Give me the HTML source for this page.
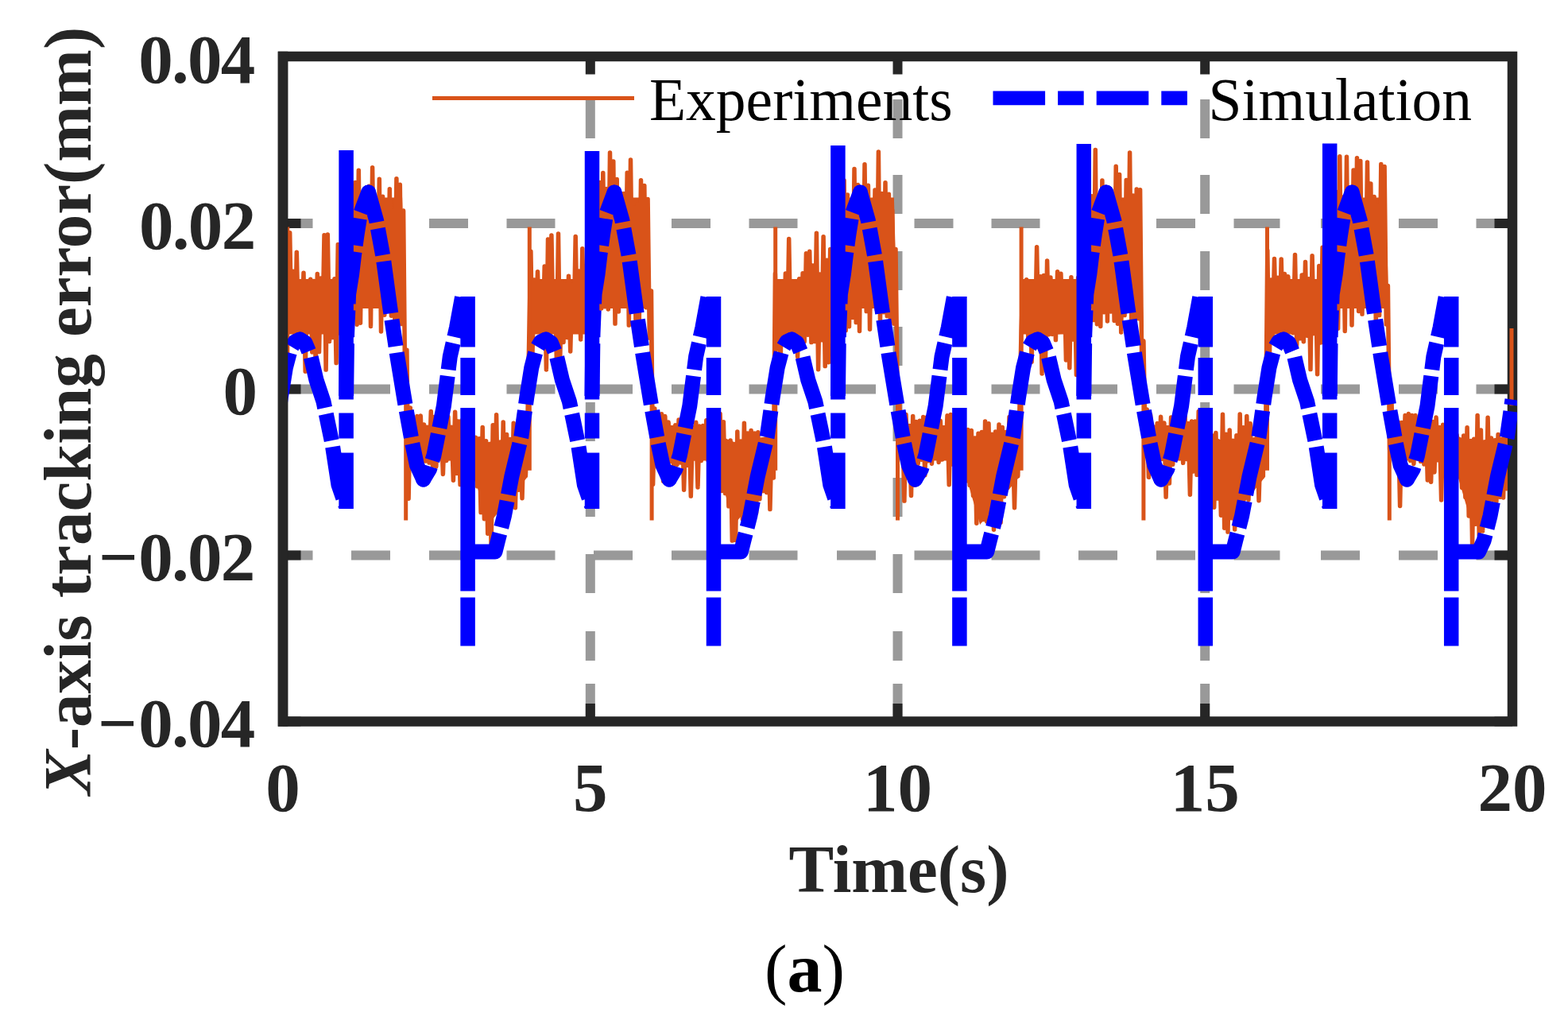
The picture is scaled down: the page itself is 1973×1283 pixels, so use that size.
<!DOCTYPE html><html><head><meta charset="utf-8"><style>html,body{margin:0;padding:0;background:#fff;overflow:hidden}svg{display:block}</style></head><body><svg width="1973" height="1283" viewBox="0 0 1973 1283"><defs><clipPath id="ax"><rect x="356.0" y="71.0" width="1547.0" height="836.5"/></clipPath><clipPath id="ax2"><rect x="356.0" y="71.0" width="1553.0" height="836.5"/></clipPath><clipPath id="ax3"><rect x="356.0" y="71.0" width="1541.0" height="836.5"/></clipPath></defs><rect width="100%" height="100%" fill="#fff"/><path d="M332.5 281.0H393.5M442.0 281.0H491.0M540.0 281.0H589.0M637.5 281.0H698.5M747.0 281.0H796.0M845.0 281.0H894.0M942.5 281.0H1003.5M1053.0 281.0H1102.0M1150.5 281.0H1199.5M1247.5 281.0H1308.5M1357.0 281.0H1406.0M1455.0 281.0H1504.0M1552.5 281.0H1610.5M1662.0 281.0H1711.0M1760.0 281.0H1809.0M1857.5 281.0H1907.5M332.5 489.5H393.5M442.0 489.5H491.0M540.0 489.5H589.0M637.5 489.5H698.5M747.0 489.5H796.0M845.0 489.5H894.0M942.5 489.5H1003.5M1053.0 489.5H1102.0M1150.5 489.5H1199.5M1247.5 489.5H1308.5M1357.0 489.5H1406.0M1455.0 489.5H1504.0M1552.5 489.5H1610.5M1662.0 489.5H1711.0M1760.0 489.5H1809.0M1857.5 489.5H1907.5M332.5 698.5H393.5M442.0 698.5H491.0M540.0 698.5H589.0M637.5 698.5H698.5M747.0 698.5H796.0M845.0 698.5H894.0M942.5 698.5H1003.5M1053.0 698.5H1102.0M1150.5 698.5H1199.5M1247.5 698.5H1308.5M1357.0 698.5H1406.0M1455.0 698.5H1504.0M1552.5 698.5H1610.5M1662.0 698.5H1711.0M1760.0 698.5H1809.0M1857.5 698.5H1907.5M742.8 125.0V174.0M742.8 220.0V269.0M742.8 316.0V365.0M742.8 411.0V460.0M742.8 506.0V555.0M742.8 601.0V650.0M742.8 697.0V746.0M742.8 794.0V831.0M742.8 860.0V907.0M1129.5 125.0V174.0M1129.5 220.0V269.0M1129.5 316.0V365.0M1129.5 411.0V460.0M1129.5 506.0V555.0M1129.5 601.0V650.0M1129.5 697.0V746.0M1129.5 794.0V831.0M1129.5 860.0V907.0M1516.2 125.0V174.0M1516.2 220.0V269.0M1516.2 316.0V365.0M1516.2 411.0V460.0M1516.2 506.0V555.0M1516.2 601.0V650.0M1516.2 697.0V746.0M1516.2 794.0V831.0M1516.2 860.0V907.0" stroke="#999999" stroke-width="12" fill="none" clip-path="url(#ax)"/><path d="M356.0 71.0H378.5M1903.0 71.0H1880.5M356.0 281.0H378.5M1903.0 281.0H1880.5M356.0 489.5H378.5M1903.0 489.5H1880.5M356.0 698.5H378.5M1903.0 698.5H1880.5M356.0 907.5H378.5M1903.0 907.5H1880.5M356.0 71.0V93.5M356.0 907.5V885.0M742.8 71.0V93.5M742.8 907.5V885.0M1129.5 71.0V93.5M1129.5 907.5V885.0M1516.2 71.0V93.5M1516.2 907.5V885.0M1903.0 71.0V93.5M1903.0 907.5V885.0" stroke="#262626" stroke-width="12" fill="none"/><rect x="356.0" y="71.0" width="1547.0" height="836.5" fill="none" stroke="#262626" stroke-width="12.5"/><g clip-path="url(#ax3)"><path d="M356.0 351.1 L357.5 351.1 L359.1 351.1 L360.6 351.1 L362.2 351.1 L363.7 351.1 L365.3 351.1 L366.8 351.1 L368.4 351.1 L369.9 351.1 L371.5 351.1 L373.0 351.1 L374.6 351.1 L376.1 351.1 L377.7 351.1 L379.2 351.1 L380.8 351.1 L382.3 351.1 L383.8 351.1 L385.4 351.1 L386.9 351.1 L388.5 351.1 L390.0 351.1 L391.6 351.1 L393.1 351.1 L394.7 351.1 L396.2 351.1 L397.8 351.1 L399.3 351.1 L400.9 351.1 L402.4 351.1 L404.0 351.1 L405.5 351.1 L407.1 351.1 L408.6 351.1 L410.1 351.1 L411.7 351.1 L413.2 351.1 L414.8 351.1 L416.3 351.1 L417.9 351.1 L419.4 351.1 L421.0 351.1 L422.5 351.1 L424.1 351.1 L425.6 351.1 L427.2 351.1 L428.7 351.1 L430.3 351.1 L431.8 351.1 L433.4 351.1 L434.9 330.6 L436.4 289.5 L438.0 248.5 L439.5 248.5 L441.1 248.5 L442.6 248.5 L444.2 248.5 L445.7 248.5 L447.3 248.5 L448.8 248.5 L450.4 248.5 L451.9 248.5 L453.5 248.5 L455.0 248.5 L456.6 248.5 L458.1 248.5 L459.6 248.5 L461.2 248.5 L462.7 248.5 L464.3 248.5 L465.8 248.5 L467.4 248.5 L468.9 248.5 L470.5 248.5 L472.0 248.5 L473.6 248.5 L475.1 248.5 L476.7 248.5 L478.2 248.5 L479.8 248.5 L481.3 248.5 L482.9 248.5 L484.4 248.5 L485.9 248.5 L487.5 248.5 L489.0 248.5 L490.6 248.5 L492.1 248.5 L493.7 248.5 L495.2 248.5 L496.8 248.5 L498.3 248.5 L499.9 248.5 L501.4 248.5 L503.0 248.5 L504.5 248.5 L506.1 248.5 L507.6 305.6 L509.2 362.6 L510.7 419.6 L512.2 476.7 L513.8 511.2 L515.3 523.1 L516.9 535.0 L518.4 535.0 L520.0 535.0 L521.5 535.0 L523.1 535.0 L524.6 535.0 L526.2 535.0 L527.7 535.0 L529.3 535.0 L530.8 535.0 L532.4 535.0 L533.9 535.0 L535.5 535.0 L537.0 535.0 L538.5 535.0 L540.1 535.0 L541.6 535.0 L543.2 535.0 L544.7 535.0 L546.3 535.0 L547.8 535.0 L549.4 535.0 L550.9 535.0 L552.5 535.0 L554.0 535.0 L555.6 535.0 L557.1 535.0 L558.7 535.0 L560.2 535.0 L561.8 535.0 L563.3 535.0 L564.8 535.0 L566.4 535.0 L567.9 535.0 L569.5 535.0 L571.0 535.0 L572.6 535.0 L574.1 535.0 L575.7 535.0 L577.2 535.0 L578.8 535.0 L580.3 535.0 L581.9 535.0 L583.4 535.0 L585.0 535.0 L586.5 535.0 L588.0 535.0 L589.6 537.4 L591.1 542.2 L592.7 547.0 L594.2 547.6 L595.8 548.3 L597.3 548.9 L598.9 549.5 L600.4 550.2 L602.0 550.8 L603.5 551.5 L605.1 552.1 L606.6 552.7 L608.2 553.4 L609.7 554.0 L611.3 554.7 L612.8 555.3 L614.3 555.9 L615.9 555.7 L617.4 555.4 L619.0 555.2 L620.5 554.9 L622.1 554.6 L623.6 554.4 L625.2 554.1 L626.7 553.9 L628.3 553.6 L629.8 553.3 L631.4 553.1 L632.9 552.8 L634.5 552.6 L636.0 552.3 L637.6 552.1 L639.1 551.8 L640.6 551.5 L642.2 551.3 L643.7 551.0 L645.3 550.8 L646.8 550.5 L648.4 550.2 L649.9 550.0 L651.5 549.7 L653.0 549.5 L654.6 549.2 L656.1 549.0 L657.7 548.8 L659.2 548.6 L660.8 548.5 L662.3 548.3 L663.9 548.2 L665.4 351.1 L666.9 351.1 L668.5 351.1 L670.0 351.1 L671.6 351.1 L673.1 351.1 L674.7 351.1 L676.2 351.1 L677.8 351.1 L679.3 351.1 L680.9 351.1 L682.4 351.1 L684.0 351.1 L685.5 351.1 L687.1 351.1 L688.6 351.1 L690.2 351.1 L691.7 351.1 L693.2 351.1 L694.8 351.1 L696.3 351.1 L697.9 351.1 L699.4 351.1 L701.0 351.1 L702.5 351.1 L704.1 351.1 L705.6 351.1 L707.2 351.1 L708.7 351.1 L710.3 351.1 L711.8 351.1 L713.4 351.1 L714.9 351.1 L716.5 351.1 L718.0 351.1 L719.5 351.1 L721.1 351.1 L722.6 351.1 L724.2 351.1 L725.7 351.1 L727.3 351.1 L728.8 351.1 L730.4 351.1 L731.9 351.1 L733.5 351.1 L735.0 351.1 L736.6 351.1 L738.1 351.1 L739.7 351.1 L741.2 351.1 L742.8 351.1 L744.3 330.6 L745.8 289.5 L747.4 248.5 L748.9 248.5 L750.5 248.5 L752.0 248.5 L753.6 248.5 L755.1 248.5 L756.7 248.5 L758.2 248.5 L759.8 248.5 L761.3 248.5 L762.9 248.5 L764.4 248.5 L766.0 248.5 L767.5 248.5 L769.0 248.5 L770.6 248.5 L772.1 248.5 L773.7 248.5 L775.2 248.5 L776.8 248.5 L778.3 248.5 L779.9 248.5 L781.4 248.5 L783.0 248.5 L784.5 248.5 L786.1 248.5 L787.6 248.5 L789.2 248.5 L790.7 248.5 L792.3 248.5 L793.8 248.5 L795.3 248.5 L796.9 248.5 L798.4 248.5 L800.0 248.5 L801.5 248.5 L803.1 248.5 L804.6 248.5 L806.2 248.5 L807.7 248.5 L809.3 248.5 L810.8 248.5 L812.4 248.5 L813.9 248.5 L815.5 248.5 L817.0 305.6 L818.6 362.6 L820.1 419.6 L821.6 476.7 L823.2 511.2 L824.7 523.1 L826.3 535.0 L827.8 535.0 L829.4 535.0 L830.9 535.0 L832.5 535.0 L834.0 535.0 L835.6 535.0 L837.1 535.0 L838.7 535.0 L840.2 535.0 L841.8 535.0 L843.3 535.0 L844.9 535.0 L846.4 535.0 L847.9 535.0 L849.5 535.0 L851.0 535.0 L852.6 535.0 L854.1 535.0 L855.7 535.0 L857.2 535.0 L858.8 535.0 L860.3 535.0 L861.9 535.0 L863.4 535.0 L865.0 535.0 L866.5 535.0 L868.1 535.0 L869.6 535.0 L871.2 535.0 L872.7 535.0 L874.2 535.0 L875.8 535.0 L877.3 535.0 L878.9 535.0 L880.4 535.0 L882.0 535.0 L883.5 535.0 L885.1 535.0 L886.6 535.0 L888.2 535.0 L889.7 535.0 L891.3 535.0 L892.8 535.0 L894.4 535.0 L895.9 535.0 L897.5 535.0 L899.0 537.4 L900.5 542.2 L902.1 547.0 L903.6 547.6 L905.2 548.3 L906.7 548.9 L908.3 549.5 L909.8 550.2 L911.4 550.8 L912.9 551.5 L914.5 552.1 L916.0 552.7 L917.6 553.4 L919.1 554.0 L920.7 554.7 L922.2 555.3 L923.7 555.9 L925.3 555.7 L926.8 555.4 L928.4 555.2 L929.9 554.9 L931.5 554.6 L933.0 554.4 L934.6 554.1 L936.1 553.9 L937.7 553.6 L939.2 553.3 L940.8 553.1 L942.3 552.8 L943.9 552.6 L945.4 552.3 L947.0 552.1 L948.5 551.8 L950.0 551.5 L951.6 551.3 L953.1 551.0 L954.7 550.8 L956.2 550.5 L957.8 550.2 L959.3 550.0 L960.9 549.7 L962.4 549.5 L964.0 549.2 L965.5 549.0 L967.1 548.8 L968.6 548.6 L970.2 548.5 L971.7 548.3 L973.3 548.2 L974.8 351.1 L976.3 351.1 L977.9 351.1 L979.4 351.1 L981.0 351.1 L982.5 351.1 L984.1 351.1 L985.6 351.1 L987.2 351.1 L988.7 351.1 L990.3 351.1 L991.8 351.1 L993.4 351.1 L994.9 351.1 L996.5 351.1 L998.0 351.1 L999.6 351.1 L1001.1 351.1 L1002.6 351.1 L1004.2 351.1 L1005.7 351.1 L1007.3 351.1 L1008.8 351.1 L1010.4 351.1 L1011.9 351.1 L1013.5 351.1 L1015.0 351.1 L1016.6 351.1 L1018.1 351.1 L1019.7 351.1 L1021.2 351.1 L1022.8 351.1 L1024.3 351.1 L1025.9 351.1 L1027.4 351.1 L1028.9 351.1 L1030.5 351.1 L1032.0 351.1 L1033.6 351.1 L1035.1 351.1 L1036.7 351.1 L1038.2 351.1 L1039.8 351.1 L1041.3 351.1 L1042.9 351.1 L1044.4 351.1 L1046.0 351.1 L1047.5 351.1 L1049.1 351.1 L1050.6 351.1 L1052.2 351.1 L1053.7 330.6 L1055.2 289.5 L1056.8 248.5 L1058.3 248.5 L1059.9 248.5 L1061.4 248.5 L1063.0 248.5 L1064.5 248.5 L1066.1 248.5 L1067.6 248.5 L1069.2 248.5 L1070.7 248.5 L1072.3 248.5 L1073.8 248.5 L1075.4 248.5 L1076.9 248.5 L1078.4 248.5 L1080.0 248.5 L1081.5 248.5 L1083.1 248.5 L1084.6 248.5 L1086.2 248.5 L1087.7 248.5 L1089.3 248.5 L1090.8 248.5 L1092.4 248.5 L1093.9 248.5 L1095.5 248.5 L1097.0 248.5 L1098.6 248.5 L1100.1 248.5 L1101.7 248.5 L1103.2 248.5 L1104.7 248.5 L1106.3 248.5 L1107.8 248.5 L1109.4 248.5 L1110.9 248.5 L1112.5 248.5 L1114.0 248.5 L1115.6 248.5 L1117.1 248.5 L1118.7 248.5 L1120.2 248.5 L1121.8 248.5 L1123.3 248.5 L1124.9 248.5 L1126.4 305.6 L1128.0 362.6 L1129.5 419.6 L1131.0 476.7 L1132.6 511.2 L1134.1 523.1 L1135.7 535.0 L1137.2 535.0 L1138.8 535.0 L1140.3 535.0 L1141.9 535.0 L1143.4 535.0 L1145.0 535.0 L1146.5 535.0 L1148.1 535.0 L1149.6 535.0 L1151.2 535.0 L1152.7 535.0 L1154.3 535.0 L1155.8 535.0 L1157.3 535.0 L1158.9 535.0 L1160.4 535.0 L1162.0 535.0 L1163.5 535.0 L1165.1 535.0 L1166.6 535.0 L1168.2 535.0 L1169.7 535.0 L1171.3 535.0 L1172.8 535.0 L1174.4 535.0 L1175.9 535.0 L1177.5 535.0 L1179.0 535.0 L1180.6 535.0 L1182.1 535.0 L1183.6 535.0 L1185.2 535.0 L1186.7 535.0 L1188.3 535.0 L1189.8 535.0 L1191.4 535.0 L1192.9 535.0 L1194.5 535.0 L1196.0 535.0 L1197.6 535.0 L1199.1 535.0 L1200.7 535.0 L1202.2 535.0 L1203.8 535.0 L1205.3 535.0 L1206.8 535.0 L1208.4 537.4 L1209.9 542.2 L1211.5 547.0 L1213.0 547.6 L1214.6 548.3 L1216.1 548.9 L1217.7 549.5 L1219.2 550.2 L1220.8 550.8 L1222.3 551.5 L1223.9 552.1 L1225.4 552.7 L1227.0 553.4 L1228.5 554.0 L1230.1 554.7 L1231.6 555.3 L1233.1 555.9 L1234.7 555.7 L1236.2 555.4 L1237.8 555.2 L1239.3 554.9 L1240.9 554.6 L1242.4 554.4 L1244.0 554.1 L1245.5 553.9 L1247.1 553.6 L1248.6 553.3 L1250.2 553.1 L1251.7 552.8 L1253.3 552.6 L1254.8 552.3 L1256.4 552.1 L1257.9 551.8 L1259.4 551.5 L1261.0 551.3 L1262.5 551.0 L1264.1 550.8 L1265.6 550.5 L1267.2 550.2 L1268.7 550.0 L1270.3 549.7 L1271.8 549.5 L1273.4 549.2 L1274.9 549.0 L1276.5 548.8 L1278.0 548.6 L1279.6 548.5 L1281.1 548.3 L1282.7 548.2 L1284.2 351.1 L1285.7 351.1 L1287.3 351.1 L1288.8 351.1 L1290.4 351.1 L1291.9 351.1 L1293.5 351.1 L1295.0 351.1 L1296.6 351.1 L1298.1 351.1 L1299.7 351.1 L1301.2 351.1 L1302.8 351.1 L1304.3 351.1 L1305.9 351.1 L1307.4 351.1 L1309.0 351.1 L1310.5 351.1 L1312.0 351.1 L1313.6 351.1 L1315.1 351.1 L1316.7 351.1 L1318.2 351.1 L1319.8 351.1 L1321.3 351.1 L1322.9 351.1 L1324.4 351.1 L1326.0 351.1 L1327.5 351.1 L1329.1 351.1 L1330.6 351.1 L1332.2 351.1 L1333.7 351.1 L1335.3 351.1 L1336.8 351.1 L1338.3 351.1 L1339.9 351.1 L1341.4 351.1 L1343.0 351.1 L1344.5 351.1 L1346.1 351.1 L1347.6 351.1 L1349.2 351.1 L1350.7 351.1 L1352.3 351.1 L1353.8 351.1 L1355.4 351.1 L1356.9 351.1 L1358.5 351.1 L1360.0 351.1 L1361.5 351.1 L1363.1 330.6 L1364.6 289.5 L1366.2 248.5 L1367.7 248.5 L1369.3 248.5 L1370.8 248.5 L1372.4 248.5 L1373.9 248.5 L1375.5 248.5 L1377.0 248.5 L1378.6 248.5 L1380.1 248.5 L1381.7 248.5 L1383.2 248.5 L1384.8 248.5 L1386.3 248.5 L1387.8 248.5 L1389.4 248.5 L1390.9 248.5 L1392.5 248.5 L1394.0 248.5 L1395.6 248.5 L1397.1 248.5 L1398.7 248.5 L1400.2 248.5 L1401.8 248.5 L1403.3 248.5 L1404.9 248.5 L1406.4 248.5 L1408.0 248.5 L1409.5 248.5 L1411.1 248.5 L1412.6 248.5 L1414.1 248.5 L1415.7 248.5 L1417.2 248.5 L1418.8 248.5 L1420.3 248.5 L1421.9 248.5 L1423.4 248.5 L1425.0 248.5 L1426.5 248.5 L1428.1 248.5 L1429.6 248.5 L1431.2 248.5 L1432.7 248.5 L1434.3 248.5 L1435.8 305.6 L1437.4 362.6 L1438.9 419.6 L1440.4 476.7 L1442.0 511.2 L1443.5 523.1 L1445.1 535.0 L1446.6 535.0 L1448.2 535.0 L1449.7 535.0 L1451.3 535.0 L1452.8 535.0 L1454.4 535.0 L1455.9 535.0 L1457.5 535.0 L1459.0 535.0 L1460.6 535.0 L1462.1 535.0 L1463.7 535.0 L1465.2 535.0 L1466.7 535.0 L1468.3 535.0 L1469.8 535.0 L1471.4 535.0 L1472.9 535.0 L1474.5 535.0 L1476.0 535.0 L1477.6 535.0 L1479.1 535.0 L1480.7 535.0 L1482.2 535.0 L1483.8 535.0 L1485.3 535.0 L1486.9 535.0 L1488.4 535.0 L1490.0 535.0 L1491.5 535.0 L1493.0 535.0 L1494.6 535.0 L1496.1 535.0 L1497.7 535.0 L1499.2 535.0 L1500.8 535.0 L1502.3 535.0 L1503.9 535.0 L1505.4 535.0 L1507.0 535.0 L1508.5 535.0 L1510.1 535.0 L1511.6 535.0 L1513.2 535.0 L1514.7 535.0 L1516.2 535.0 L1517.8 537.4 L1519.3 542.2 L1520.9 547.0 L1522.4 547.6 L1524.0 548.3 L1525.5 548.9 L1527.1 549.5 L1528.6 550.2 L1530.2 550.8 L1531.7 551.5 L1533.3 552.1 L1534.8 552.7 L1536.4 553.4 L1537.9 554.0 L1539.5 554.7 L1541.0 555.3 L1542.5 555.9 L1544.1 555.7 L1545.6 555.4 L1547.2 555.2 L1548.7 554.9 L1550.3 554.6 L1551.8 554.4 L1553.4 554.1 L1554.9 553.9 L1556.5 553.6 L1558.0 553.3 L1559.6 553.1 L1561.1 552.8 L1562.7 552.6 L1564.2 552.3 L1565.8 552.1 L1567.3 551.8 L1568.8 551.5 L1570.4 551.3 L1571.9 551.0 L1573.5 550.8 L1575.0 550.5 L1576.6 550.2 L1578.1 550.0 L1579.7 549.7 L1581.2 549.5 L1582.8 549.2 L1584.3 549.0 L1585.9 548.8 L1587.4 548.6 L1589.0 548.5 L1590.5 548.3 L1592.1 548.2 L1593.6 351.1 L1595.1 351.1 L1596.7 351.1 L1598.2 351.1 L1599.8 351.1 L1601.3 351.1 L1602.9 351.1 L1604.4 351.1 L1606.0 351.1 L1607.5 351.1 L1609.1 351.1 L1610.6 351.1 L1612.2 351.1 L1613.7 351.1 L1615.3 351.1 L1616.8 351.1 L1618.4 351.1 L1619.9 351.1 L1621.4 351.1 L1623.0 351.1 L1624.5 351.1 L1626.1 351.1 L1627.6 351.1 L1629.2 351.1 L1630.7 351.1 L1632.3 351.1 L1633.8 351.1 L1635.4 351.1 L1636.9 351.1 L1638.5 351.1 L1640.0 351.1 L1641.6 351.1 L1643.1 351.1 L1644.7 351.1 L1646.2 351.1 L1647.7 351.1 L1649.3 351.1 L1650.8 351.1 L1652.4 351.1 L1653.9 351.1 L1655.5 351.1 L1657.0 351.1 L1658.6 351.1 L1660.1 351.1 L1661.7 351.1 L1663.2 351.1 L1664.8 351.1 L1666.3 351.1 L1667.9 351.1 L1669.4 351.1 L1671.0 351.1 L1672.5 330.6 L1674.0 289.5 L1675.6 248.5 L1677.1 248.5 L1678.7 248.5 L1680.2 248.5 L1681.8 248.5 L1683.3 248.5 L1684.9 248.5 L1686.4 248.5 L1688.0 248.5 L1689.5 248.5 L1691.1 248.5 L1692.6 248.5 L1694.2 248.5 L1695.7 248.5 L1697.2 248.5 L1698.8 248.5 L1700.3 248.5 L1701.9 248.5 L1703.4 248.5 L1705.0 248.5 L1706.5 248.5 L1708.1 248.5 L1709.6 248.5 L1711.2 248.5 L1712.7 248.5 L1714.3 248.5 L1715.8 248.5 L1717.4 248.5 L1718.9 248.5 L1720.5 248.5 L1722.0 248.5 L1723.5 248.5 L1725.1 248.5 L1726.6 248.5 L1728.2 248.5 L1729.7 248.5 L1731.3 248.5 L1732.8 248.5 L1734.4 248.5 L1735.9 248.5 L1737.5 248.5 L1739.0 248.5 L1740.6 248.5 L1742.1 248.5 L1743.7 248.5 L1745.2 305.6 L1746.8 362.6 L1748.3 419.6 L1749.8 476.7 L1751.4 511.2 L1752.9 523.1 L1754.5 535.0 L1756.0 535.0 L1757.6 535.0 L1759.1 535.0 L1760.7 535.0 L1762.2 535.0 L1763.8 535.0 L1765.3 535.0 L1766.9 535.0 L1768.4 535.0 L1770.0 535.0 L1771.5 535.0 L1773.1 535.0 L1774.6 535.0 L1776.1 535.0 L1777.7 535.0 L1779.2 535.0 L1780.8 535.0 L1782.3 535.0 L1783.9 535.0 L1785.4 535.0 L1787.0 535.0 L1788.5 535.0 L1790.1 535.0 L1791.6 535.0 L1793.2 535.0 L1794.7 535.0 L1796.3 535.0 L1797.8 535.0 L1799.4 535.0 L1800.9 535.0 L1802.4 535.0 L1804.0 535.0 L1805.5 535.0 L1807.1 535.0 L1808.6 535.0 L1810.2 535.0 L1811.7 535.0 L1813.3 535.0 L1814.8 535.0 L1816.4 535.0 L1817.9 535.0 L1819.5 535.0 L1821.0 535.0 L1822.6 535.0 L1824.1 535.0 L1825.7 535.0 L1827.2 537.4 L1828.7 542.2 L1830.3 547.0 L1831.8 547.6 L1833.4 548.3 L1834.9 548.9 L1836.5 549.5 L1838.0 550.2 L1839.6 550.8 L1841.1 551.5 L1842.7 552.1 L1844.2 552.7 L1845.8 553.4 L1847.3 554.0 L1848.9 554.7 L1850.4 555.3 L1851.9 555.9 L1853.5 555.7 L1855.0 555.4 L1856.6 555.2 L1858.1 554.9 L1859.7 554.6 L1861.2 554.4 L1862.8 554.1 L1864.3 553.9 L1865.9 553.6 L1867.4 553.3 L1869.0 553.1 L1870.5 552.8 L1872.1 552.6 L1873.6 552.3 L1875.2 552.1 L1876.7 551.8 L1878.2 551.5 L1879.8 551.3 L1881.3 551.0 L1882.9 550.8 L1884.4 550.5 L1886.0 550.2 L1887.5 550.0 L1889.1 549.7 L1890.6 549.5 L1892.2 549.2 L1893.7 549.0 L1895.3 548.8 L1896.8 548.6 L1898.4 548.5 L1899.9 548.3 L1901.5 548.2 L1903.0 351.1 L1903.0 420.4 L1901.5 599.7 L1899.9 601.7 L1898.4 603.6 L1896.8 605.5 L1895.3 607.5 L1893.7 609.4 L1892.2 611.3 L1890.6 613.1 L1889.1 615.0 L1887.5 616.9 L1886.0 618.7 L1884.4 620.6 L1882.9 622.5 L1881.3 624.4 L1879.8 626.2 L1878.2 628.1 L1876.7 630.0 L1875.2 631.9 L1873.6 633.7 L1872.1 635.6 L1870.5 637.5 L1869.0 639.3 L1867.4 641.2 L1865.9 643.1 L1864.3 645.0 L1862.8 646.8 L1861.2 648.7 L1859.7 650.6 L1858.1 652.4 L1856.6 654.3 L1855.0 656.2 L1853.5 658.1 L1851.9 659.9 L1850.4 654.6 L1848.9 649.2 L1847.3 643.9 L1845.8 638.6 L1844.2 633.2 L1842.7 627.9 L1841.1 622.6 L1839.6 617.2 L1838.0 611.9 L1836.5 606.6 L1834.9 601.2 L1833.4 595.9 L1831.8 590.5 L1830.3 585.2 L1828.7 582.9 L1827.2 580.6 L1825.7 579.4 L1824.1 579.4 L1822.6 579.4 L1821.0 579.4 L1819.5 579.4 L1817.9 579.4 L1816.4 579.4 L1814.8 579.4 L1813.3 579.4 L1811.7 579.4 L1810.2 579.4 L1808.6 579.4 L1807.1 579.4 L1805.5 579.4 L1804.0 579.4 L1802.4 579.4 L1800.9 579.4 L1799.4 579.4 L1797.8 579.4 L1796.3 579.4 L1794.7 579.4 L1793.2 579.4 L1791.6 579.4 L1790.1 579.4 L1788.5 579.4 L1787.0 579.4 L1785.4 579.4 L1783.9 579.4 L1782.3 579.4 L1780.8 579.4 L1779.2 579.4 L1777.7 579.4 L1776.1 579.4 L1774.6 579.4 L1773.1 579.4 L1771.5 579.4 L1770.0 579.4 L1768.4 579.4 L1766.9 579.4 L1765.3 579.4 L1763.8 579.4 L1762.2 579.4 L1760.7 579.4 L1759.1 579.4 L1757.6 579.4 L1756.0 579.4 L1754.5 579.4 L1752.9 574.6 L1751.4 569.8 L1749.8 547.5 L1748.3 507.6 L1746.8 467.8 L1745.2 427.9 L1743.7 388.1 L1742.1 388.1 L1740.6 388.1 L1739.0 388.1 L1737.5 388.1 L1735.9 388.1 L1734.4 388.1 L1732.8 388.1 L1731.3 388.1 L1729.7 388.1 L1728.2 388.1 L1726.6 388.1 L1725.1 388.1 L1723.5 388.1 L1722.0 388.1 L1720.5 388.1 L1718.9 388.1 L1717.4 388.1 L1715.8 388.1 L1714.3 388.1 L1712.7 388.1 L1711.2 388.1 L1709.6 388.1 L1708.1 388.1 L1706.5 388.1 L1705.0 388.1 L1703.4 388.1 L1701.9 388.1 L1700.3 388.1 L1698.8 388.1 L1697.2 388.1 L1695.7 388.1 L1694.2 388.1 L1692.6 388.1 L1691.1 388.1 L1689.5 388.1 L1688.0 388.1 L1686.4 388.1 L1684.9 388.1 L1683.3 388.1 L1681.8 388.1 L1680.2 388.1 L1678.7 388.1 L1677.1 388.1 L1675.6 388.1 L1674.0 401.0 L1672.5 413.9 L1671.0 420.4 L1669.4 420.4 L1667.9 420.4 L1666.3 420.4 L1664.8 420.4 L1663.2 420.4 L1661.7 420.4 L1660.1 420.4 L1658.6 420.4 L1657.0 420.4 L1655.5 420.4 L1653.9 420.4 L1652.4 420.4 L1650.8 420.4 L1649.3 420.4 L1647.7 420.4 L1646.2 420.4 L1644.7 420.4 L1643.1 420.4 L1641.6 420.4 L1640.0 420.4 L1638.5 420.4 L1636.9 420.4 L1635.4 420.4 L1633.8 420.4 L1632.3 420.4 L1630.7 420.4 L1629.2 420.4 L1627.6 420.4 L1626.1 420.4 L1624.5 420.4 L1623.0 420.4 L1621.4 420.4 L1619.9 420.4 L1618.4 420.4 L1616.8 420.4 L1615.3 420.4 L1613.7 420.4 L1612.2 420.4 L1610.6 420.4 L1609.1 420.4 L1607.5 420.4 L1606.0 420.4 L1604.4 420.4 L1602.9 420.4 L1601.3 420.4 L1599.8 420.4 L1598.2 420.4 L1596.7 420.4 L1595.1 420.4 L1593.6 420.4 L1592.1 599.7 L1590.5 601.7 L1589.0 603.6 L1587.4 605.5 L1585.9 607.5 L1584.3 609.4 L1582.8 611.3 L1581.2 613.1 L1579.7 615.0 L1578.1 616.9 L1576.6 618.7 L1575.0 620.6 L1573.5 622.5 L1571.9 624.4 L1570.4 626.2 L1568.8 628.1 L1567.3 630.0 L1565.8 631.9 L1564.2 633.7 L1562.7 635.6 L1561.1 637.5 L1559.6 639.3 L1558.0 641.2 L1556.5 643.1 L1554.9 645.0 L1553.4 646.8 L1551.8 648.7 L1550.3 650.6 L1548.7 652.4 L1547.2 654.3 L1545.6 656.2 L1544.1 658.1 L1542.5 659.9 L1541.0 654.6 L1539.5 649.2 L1537.9 643.9 L1536.4 638.6 L1534.8 633.2 L1533.3 627.9 L1531.7 622.6 L1530.2 617.2 L1528.6 611.9 L1527.1 606.6 L1525.5 601.2 L1524.0 595.9 L1522.4 590.5 L1520.9 585.2 L1519.3 582.9 L1517.8 580.6 L1516.2 579.4 L1514.7 579.4 L1513.2 579.4 L1511.6 579.4 L1510.1 579.4 L1508.5 579.4 L1507.0 579.4 L1505.4 579.4 L1503.9 579.4 L1502.3 579.4 L1500.8 579.4 L1499.2 579.4 L1497.7 579.4 L1496.1 579.4 L1494.6 579.4 L1493.0 579.4 L1491.5 579.4 L1490.0 579.4 L1488.4 579.4 L1486.9 579.4 L1485.3 579.4 L1483.8 579.4 L1482.2 579.4 L1480.7 579.4 L1479.1 579.4 L1477.6 579.4 L1476.0 579.4 L1474.5 579.4 L1472.9 579.4 L1471.4 579.4 L1469.8 579.4 L1468.3 579.4 L1466.7 579.4 L1465.2 579.4 L1463.7 579.4 L1462.1 579.4 L1460.6 579.4 L1459.0 579.4 L1457.5 579.4 L1455.9 579.4 L1454.4 579.4 L1452.8 579.4 L1451.3 579.4 L1449.7 579.4 L1448.2 579.4 L1446.6 579.4 L1445.1 579.4 L1443.5 574.6 L1442.0 569.8 L1440.4 547.5 L1438.9 507.6 L1437.4 467.8 L1435.8 427.9 L1434.3 388.1 L1432.7 388.1 L1431.2 388.1 L1429.6 388.1 L1428.1 388.1 L1426.5 388.1 L1425.0 388.1 L1423.4 388.1 L1421.9 388.1 L1420.3 388.1 L1418.8 388.1 L1417.2 388.1 L1415.7 388.1 L1414.1 388.1 L1412.6 388.1 L1411.1 388.1 L1409.5 388.1 L1408.0 388.1 L1406.4 388.1 L1404.9 388.1 L1403.3 388.1 L1401.8 388.1 L1400.2 388.1 L1398.7 388.1 L1397.1 388.1 L1395.6 388.1 L1394.0 388.1 L1392.5 388.1 L1390.9 388.1 L1389.4 388.1 L1387.8 388.1 L1386.3 388.1 L1384.8 388.1 L1383.2 388.1 L1381.7 388.1 L1380.1 388.1 L1378.6 388.1 L1377.0 388.1 L1375.5 388.1 L1373.9 388.1 L1372.4 388.1 L1370.8 388.1 L1369.3 388.1 L1367.7 388.1 L1366.2 388.1 L1364.6 401.0 L1363.1 413.9 L1361.5 420.4 L1360.0 420.4 L1358.5 420.4 L1356.9 420.4 L1355.4 420.4 L1353.8 420.4 L1352.3 420.4 L1350.7 420.4 L1349.2 420.4 L1347.6 420.4 L1346.1 420.4 L1344.5 420.4 L1343.0 420.4 L1341.4 420.4 L1339.9 420.4 L1338.3 420.4 L1336.8 420.4 L1335.3 420.4 L1333.7 420.4 L1332.2 420.4 L1330.6 420.4 L1329.1 420.4 L1327.5 420.4 L1326.0 420.4 L1324.4 420.4 L1322.9 420.4 L1321.3 420.4 L1319.8 420.4 L1318.2 420.4 L1316.7 420.4 L1315.1 420.4 L1313.6 420.4 L1312.0 420.4 L1310.5 420.4 L1309.0 420.4 L1307.4 420.4 L1305.9 420.4 L1304.3 420.4 L1302.8 420.4 L1301.2 420.4 L1299.7 420.4 L1298.1 420.4 L1296.6 420.4 L1295.0 420.4 L1293.5 420.4 L1291.9 420.4 L1290.4 420.4 L1288.8 420.4 L1287.3 420.4 L1285.7 420.4 L1284.2 420.4 L1282.7 599.7 L1281.1 601.7 L1279.6 603.6 L1278.0 605.5 L1276.5 607.5 L1274.9 609.4 L1273.4 611.3 L1271.8 613.1 L1270.3 615.0 L1268.7 616.9 L1267.2 618.7 L1265.6 620.6 L1264.1 622.5 L1262.5 624.4 L1261.0 626.2 L1259.4 628.1 L1257.9 630.0 L1256.4 631.9 L1254.8 633.7 L1253.3 635.6 L1251.7 637.5 L1250.2 639.3 L1248.6 641.2 L1247.1 643.1 L1245.5 645.0 L1244.0 646.8 L1242.4 648.7 L1240.9 650.6 L1239.3 652.4 L1237.8 654.3 L1236.2 656.2 L1234.7 658.1 L1233.1 659.9 L1231.6 654.6 L1230.1 649.2 L1228.5 643.9 L1227.0 638.6 L1225.4 633.2 L1223.9 627.9 L1222.3 622.6 L1220.8 617.2 L1219.2 611.9 L1217.7 606.6 L1216.1 601.2 L1214.6 595.9 L1213.0 590.5 L1211.5 585.2 L1209.9 582.9 L1208.4 580.6 L1206.8 579.4 L1205.3 579.4 L1203.8 579.4 L1202.2 579.4 L1200.7 579.4 L1199.1 579.4 L1197.6 579.4 L1196.0 579.4 L1194.5 579.4 L1192.9 579.4 L1191.4 579.4 L1189.8 579.4 L1188.3 579.4 L1186.7 579.4 L1185.2 579.4 L1183.6 579.4 L1182.1 579.4 L1180.6 579.4 L1179.0 579.4 L1177.5 579.4 L1175.9 579.4 L1174.4 579.4 L1172.8 579.4 L1171.3 579.4 L1169.7 579.4 L1168.2 579.4 L1166.6 579.4 L1165.1 579.4 L1163.5 579.4 L1162.0 579.4 L1160.4 579.4 L1158.9 579.4 L1157.3 579.4 L1155.8 579.4 L1154.3 579.4 L1152.7 579.4 L1151.2 579.4 L1149.6 579.4 L1148.1 579.4 L1146.5 579.4 L1145.0 579.4 L1143.4 579.4 L1141.9 579.4 L1140.3 579.4 L1138.8 579.4 L1137.2 579.4 L1135.7 579.4 L1134.1 574.6 L1132.6 569.8 L1131.0 547.5 L1129.5 507.6 L1128.0 467.8 L1126.4 427.9 L1124.9 388.1 L1123.3 388.1 L1121.8 388.1 L1120.2 388.1 L1118.7 388.1 L1117.1 388.1 L1115.6 388.1 L1114.0 388.1 L1112.5 388.1 L1110.9 388.1 L1109.4 388.1 L1107.8 388.1 L1106.3 388.1 L1104.7 388.1 L1103.2 388.1 L1101.7 388.1 L1100.1 388.1 L1098.6 388.1 L1097.0 388.1 L1095.5 388.1 L1093.9 388.1 L1092.4 388.1 L1090.8 388.1 L1089.3 388.1 L1087.7 388.1 L1086.2 388.1 L1084.6 388.1 L1083.1 388.1 L1081.5 388.1 L1080.0 388.1 L1078.4 388.1 L1076.9 388.1 L1075.4 388.1 L1073.8 388.1 L1072.3 388.1 L1070.7 388.1 L1069.2 388.1 L1067.6 388.1 L1066.1 388.1 L1064.5 388.1 L1063.0 388.1 L1061.4 388.1 L1059.9 388.1 L1058.3 388.1 L1056.8 388.1 L1055.2 401.0 L1053.7 413.9 L1052.2 420.4 L1050.6 420.4 L1049.1 420.4 L1047.5 420.4 L1046.0 420.4 L1044.4 420.4 L1042.9 420.4 L1041.3 420.4 L1039.8 420.4 L1038.2 420.4 L1036.7 420.4 L1035.1 420.4 L1033.6 420.4 L1032.0 420.4 L1030.5 420.4 L1028.9 420.4 L1027.4 420.4 L1025.9 420.4 L1024.3 420.4 L1022.8 420.4 L1021.2 420.4 L1019.7 420.4 L1018.1 420.4 L1016.6 420.4 L1015.0 420.4 L1013.5 420.4 L1011.9 420.4 L1010.4 420.4 L1008.8 420.4 L1007.3 420.4 L1005.7 420.4 L1004.2 420.4 L1002.6 420.4 L1001.1 420.4 L999.6 420.4 L998.0 420.4 L996.5 420.4 L994.9 420.4 L993.4 420.4 L991.8 420.4 L990.3 420.4 L988.7 420.4 L987.2 420.4 L985.6 420.4 L984.1 420.4 L982.5 420.4 L981.0 420.4 L979.4 420.4 L977.9 420.4 L976.3 420.4 L974.8 420.4 L973.3 599.7 L971.7 601.7 L970.2 603.6 L968.6 605.5 L967.1 607.5 L965.5 609.4 L964.0 611.3 L962.4 613.1 L960.9 615.0 L959.3 616.9 L957.8 618.7 L956.2 620.6 L954.7 622.5 L953.1 624.4 L951.6 626.2 L950.0 628.1 L948.5 630.0 L947.0 631.9 L945.4 633.7 L943.9 635.6 L942.3 637.5 L940.8 639.3 L939.2 641.2 L937.7 643.1 L936.1 645.0 L934.6 646.8 L933.0 648.7 L931.5 650.6 L929.9 652.4 L928.4 654.3 L926.8 656.2 L925.3 658.1 L923.7 659.9 L922.2 654.6 L920.7 649.2 L919.1 643.9 L917.6 638.6 L916.0 633.2 L914.5 627.9 L912.9 622.6 L911.4 617.2 L909.8 611.9 L908.3 606.6 L906.7 601.2 L905.2 595.9 L903.6 590.5 L902.1 585.2 L900.5 582.9 L899.0 580.6 L897.5 579.4 L895.9 579.4 L894.4 579.4 L892.8 579.4 L891.3 579.4 L889.7 579.4 L888.2 579.4 L886.6 579.4 L885.1 579.4 L883.5 579.4 L882.0 579.4 L880.4 579.4 L878.9 579.4 L877.3 579.4 L875.8 579.4 L874.2 579.4 L872.7 579.4 L871.2 579.4 L869.6 579.4 L868.1 579.4 L866.5 579.4 L865.0 579.4 L863.4 579.4 L861.9 579.4 L860.3 579.4 L858.8 579.4 L857.2 579.4 L855.7 579.4 L854.1 579.4 L852.6 579.4 L851.0 579.4 L849.5 579.4 L847.9 579.4 L846.4 579.4 L844.9 579.4 L843.3 579.4 L841.8 579.4 L840.2 579.4 L838.7 579.4 L837.1 579.4 L835.6 579.4 L834.0 579.4 L832.5 579.4 L830.9 579.4 L829.4 579.4 L827.8 579.4 L826.3 579.4 L824.7 574.6 L823.2 569.8 L821.6 547.5 L820.1 507.6 L818.6 467.8 L817.0 427.9 L815.5 388.1 L813.9 388.1 L812.4 388.1 L810.8 388.1 L809.3 388.1 L807.7 388.1 L806.2 388.1 L804.6 388.1 L803.1 388.1 L801.5 388.1 L800.0 388.1 L798.4 388.1 L796.9 388.1 L795.3 388.1 L793.8 388.1 L792.3 388.1 L790.7 388.1 L789.2 388.1 L787.6 388.1 L786.1 388.1 L784.5 388.1 L783.0 388.1 L781.4 388.1 L779.9 388.1 L778.3 388.1 L776.8 388.1 L775.2 388.1 L773.7 388.1 L772.1 388.1 L770.6 388.1 L769.0 388.1 L767.5 388.1 L766.0 388.1 L764.4 388.1 L762.9 388.1 L761.3 388.1 L759.8 388.1 L758.2 388.1 L756.7 388.1 L755.1 388.1 L753.6 388.1 L752.0 388.1 L750.5 388.1 L748.9 388.1 L747.4 388.1 L745.8 401.0 L744.3 413.9 L742.8 420.4 L741.2 420.4 L739.7 420.4 L738.1 420.4 L736.6 420.4 L735.0 420.4 L733.5 420.4 L731.9 420.4 L730.4 420.4 L728.8 420.4 L727.3 420.4 L725.7 420.4 L724.2 420.4 L722.6 420.4 L721.1 420.4 L719.5 420.4 L718.0 420.4 L716.5 420.4 L714.9 420.4 L713.4 420.4 L711.8 420.4 L710.3 420.4 L708.7 420.4 L707.2 420.4 L705.6 420.4 L704.1 420.4 L702.5 420.4 L701.0 420.4 L699.4 420.4 L697.9 420.4 L696.3 420.4 L694.8 420.4 L693.2 420.4 L691.7 420.4 L690.2 420.4 L688.6 420.4 L687.1 420.4 L685.5 420.4 L684.0 420.4 L682.4 420.4 L680.9 420.4 L679.3 420.4 L677.8 420.4 L676.2 420.4 L674.7 420.4 L673.1 420.4 L671.6 420.4 L670.0 420.4 L668.5 420.4 L666.9 420.4 L665.4 420.4 L663.9 599.7 L662.3 601.7 L660.8 603.6 L659.2 605.5 L657.7 607.5 L656.1 609.4 L654.6 611.3 L653.0 613.1 L651.5 615.0 L649.9 616.9 L648.4 618.7 L646.8 620.6 L645.3 622.5 L643.7 624.4 L642.2 626.2 L640.6 628.1 L639.1 630.0 L637.6 631.9 L636.0 633.7 L634.5 635.6 L632.9 637.5 L631.4 639.3 L629.8 641.2 L628.3 643.1 L626.7 645.0 L625.2 646.8 L623.6 648.7 L622.1 650.6 L620.5 652.4 L619.0 654.3 L617.4 656.2 L615.9 658.1 L614.3 659.9 L612.8 654.6 L611.3 649.2 L609.7 643.9 L608.2 638.6 L606.6 633.2 L605.1 627.9 L603.5 622.6 L602.0 617.2 L600.4 611.9 L598.9 606.6 L597.3 601.2 L595.8 595.9 L594.2 590.5 L592.7 585.2 L591.1 582.9 L589.6 580.6 L588.0 579.4 L586.5 579.4 L585.0 579.4 L583.4 579.4 L581.9 579.4 L580.3 579.4 L578.8 579.4 L577.2 579.4 L575.7 579.4 L574.1 579.4 L572.6 579.4 L571.0 579.4 L569.5 579.4 L567.9 579.4 L566.4 579.4 L564.8 579.4 L563.3 579.4 L561.8 579.4 L560.2 579.4 L558.7 579.4 L557.1 579.4 L555.6 579.4 L554.0 579.4 L552.5 579.4 L550.9 579.4 L549.4 579.4 L547.8 579.4 L546.3 579.4 L544.7 579.4 L543.2 579.4 L541.6 579.4 L540.1 579.4 L538.5 579.4 L537.0 579.4 L535.5 579.4 L533.9 579.4 L532.4 579.4 L530.8 579.4 L529.3 579.4 L527.7 579.4 L526.2 579.4 L524.6 579.4 L523.1 579.4 L521.5 579.4 L520.0 579.4 L518.4 579.4 L516.9 579.4 L515.3 574.6 L513.8 569.8 L512.2 547.5 L510.7 507.6 L509.2 467.8 L507.6 427.9 L506.1 388.1 L504.5 388.1 L503.0 388.1 L501.4 388.1 L499.9 388.1 L498.3 388.1 L496.8 388.1 L495.2 388.1 L493.7 388.1 L492.1 388.1 L490.6 388.1 L489.0 388.1 L487.5 388.1 L485.9 388.1 L484.4 388.1 L482.9 388.1 L481.3 388.1 L479.8 388.1 L478.2 388.1 L476.7 388.1 L475.1 388.1 L473.6 388.1 L472.0 388.1 L470.5 388.1 L468.9 388.1 L467.4 388.1 L465.8 388.1 L464.3 388.1 L462.7 388.1 L461.2 388.1 L459.6 388.1 L458.1 388.1 L456.6 388.1 L455.0 388.1 L453.5 388.1 L451.9 388.1 L450.4 388.1 L448.8 388.1 L447.3 388.1 L445.7 388.1 L444.2 388.1 L442.6 388.1 L441.1 388.1 L439.5 388.1 L438.0 388.1 L436.4 401.0 L434.9 413.9 L433.4 420.4 L431.8 420.4 L430.3 420.4 L428.7 420.4 L427.2 420.4 L425.6 420.4 L424.1 420.4 L422.5 420.4 L421.0 420.4 L419.4 420.4 L417.9 420.4 L416.3 420.4 L414.8 420.4 L413.2 420.4 L411.7 420.4 L410.1 420.4 L408.6 420.4 L407.1 420.4 L405.5 420.4 L404.0 420.4 L402.4 420.4 L400.9 420.4 L399.3 420.4 L397.8 420.4 L396.2 420.4 L394.7 420.4 L393.1 420.4 L391.6 420.4 L390.0 420.4 L388.5 420.4 L386.9 420.4 L385.4 420.4 L383.8 420.4 L382.3 420.4 L380.8 420.4 L379.2 420.4 L377.7 420.4 L376.1 420.4 L374.6 420.4 L373.0 420.4 L371.5 420.4 L369.9 420.4 L368.4 420.4 L366.8 420.4 L365.3 420.4 L363.7 420.4 L362.2 420.4 L360.6 420.4 L359.1 420.4 L357.5 420.4 L356.0 420.4Z" fill="#D95319"/><path d="M356.0 344.4 L358.2 417.5 L360.3 322.9 L362.5 413.1 L364.7 292.7 L366.8 416.5 L369.0 341.3 L371.2 427.7 L373.3 317.3 L375.5 413.4 L377.7 354.2 L379.8 413.4 L382.0 343.3 L384.2 467.2 L386.3 358.9 L388.5 412.3 L390.7 351.2 L392.8 442.9 L395.0 353.4 L397.2 459.1 L399.3 344.6 L401.5 442.6 L403.6 349.9 L405.8 416.6 L408.0 295.8 L410.1 465.1 L412.3 295.0 L414.5 429.4 L416.6 354.8 L418.8 424.6 L421.0 350.7 L423.1 456.6 L425.3 307.4 L427.5 419.1 L429.6 355.7 L431.8 426.9 L434.0 306.4 L436.1 417.5 L438.3 238.2 L440.5 377.3 L442.6 233.6 L444.8 392.1 L447.0 229.5 L449.1 408.2 L451.3 214.2 L453.5 406.2 L455.6 252.8 L457.8 378.6 L460.0 259.1 L462.1 374.4 L464.3 234.3 L466.5 410.4 L468.6 210.8 L470.8 375.6 L473.0 254.6 L475.1 373.8 L477.3 225.2 L479.5 417.0 L481.6 247.2 L483.8 396.3 L485.9 252.5 L488.1 386.4 L490.3 237.7 L492.4 397.2 L494.6 264.7 L496.8 403.6 L498.9 224.7 L501.1 404.9 L503.3 232.2 L505.4 407.6 L507.6 265.0 L509.8 496.6 L511.9 440.3 L514.1 627.3 L516.3 513.0 L518.4 582.7 L520.6 536.5 L522.8 574.8 L524.9 523.4 L527.1 584.0 L529.3 523.0 L531.4 581.2 L533.6 534.1 L535.8 580.0 L537.9 537.3 L540.1 582.1 L542.3 517.6 L544.4 585.4 L546.6 524.5 L548.8 587.0 L550.9 527.2 L553.1 576.1 L555.3 537.3 L557.4 596.4 L559.6 534.3 L561.8 579.5 L563.9 523.9 L566.1 576.6 L568.2 537.3 L570.4 604.2 L572.6 518.3 L574.7 595.4 L576.9 530.0 L579.1 609.6 L581.2 528.7 L583.4 577.1 L585.6 529.4 L587.7 633.3 L589.9 521.1 L592.1 608.2 L594.2 551.5 L596.4 603.0 L598.6 550.3 L600.7 611.8 L602.9 551.7 L605.1 644.6 L607.2 537.6 L609.4 652.7 L611.6 554.8 L613.7 671.3 L615.9 564.1 L618.1 688.3 L620.2 534.7 L622.4 639.4 L624.6 521.7 L626.7 640.5 L628.9 558.1 L631.1 651.3 L633.2 531.0 L635.4 655.2 L637.6 546.4 L639.7 647.8 L641.9 552.5 L644.1 630.6 L646.2 532.2 L648.4 638.7 L650.5 548.9 L652.7 616.2 L654.9 543.3 L657.0 626.7 L659.2 547.8 L661.4 598.4 L663.5 547.8 L665.7 428.4 L667.9 316.2 L670.0 443.7 L672.2 351.9 L674.4 412.5 L676.5 341.7 L678.7 415.9 L680.9 355.7 L683.0 428.7 L685.2 335.0 L687.4 464.9 L689.5 301.0 L691.7 430.0 L693.9 295.9 L696.0 412.5 L698.2 355.1 L700.4 454.2 L702.5 293.9 L704.7 453.7 L706.9 354.1 L709.0 430.4 L711.2 357.7 L713.4 424.5 L715.5 347.2 L717.7 441.9 L719.9 358.0 L722.0 415.6 L724.2 297.4 L726.4 416.7 L728.5 340.9 L730.7 426.9 L732.8 312.8 L735.0 413.9 L737.2 349.7 L739.3 425.8 L741.5 332.0 L743.7 416.3 L745.8 275.1 L748.0 410.9 L750.2 220.5 L752.3 403.7 L754.5 229.4 L756.7 387.9 L758.8 217.6 L761.0 385.7 L763.2 237.5 L765.3 389.0 L767.5 192.0 L769.7 376.3 L771.8 203.1 L774.0 407.1 L776.2 225.5 L778.3 392.0 L780.5 244.4 L782.7 380.5 L784.8 243.4 L787.0 378.7 L789.2 217.3 L791.3 409.1 L793.5 201.0 L795.7 371.9 L797.8 261.6 L800.0 409.7 L802.2 257.0 L804.3 402.6 L806.5 226.7 L808.7 377.1 L810.8 233.5 L813.0 386.8 L815.1 250.5 L817.3 425.2 L819.5 365.9 L821.6 609.2 L823.8 514.0 L826.0 576.7 L828.1 527.6 L830.3 576.0 L832.5 520.7 L834.6 605.2 L836.8 523.4 L839.0 576.2 L841.1 531.1 L843.3 580.6 L845.5 539.0 L847.6 585.8 L849.8 534.7 L852.0 584.4 L854.1 527.9 L856.3 581.9 L858.5 533.9 L860.6 616.2 L862.8 539.2 L865.0 585.3 L867.1 530.2 L869.3 624.1 L871.5 538.4 L873.6 576.8 L875.8 531.2 L878.0 612.9 L880.1 536.0 L882.3 579.6 L884.5 535.5 L886.6 575.1 L888.8 528.7 L891.0 579.0 L893.1 524.9 L895.3 581.0 L897.5 521.1 L899.6 581.3 L901.8 548.8 L903.9 590.6 L906.1 520.5 L908.3 617.5 L910.4 530.8 L912.6 620.6 L914.8 560.8 L916.9 636.8 L919.1 554.0 L921.3 680.1 L923.4 565.3 L925.6 679.5 L927.8 543.1 L929.9 644.9 L932.1 555.0 L934.3 652.9 L936.4 532.2 L938.6 641.6 L940.8 545.0 L942.9 637.0 L945.1 541.5 L947.3 660.3 L949.4 545.1 L951.6 645.1 L953.8 543.8 L955.9 627.7 L958.1 556.9 L960.3 617.7 L962.4 552.6 L964.6 619.5 L966.8 530.4 L968.9 640.6 L971.1 551.4 L973.3 601.1 L975.4 344.2 L977.6 438.8 L979.8 358.6 L981.9 468.2 L984.1 354.5 L986.2 428.9 L988.4 344.0 L990.6 423.4 L992.7 300.6 L994.9 423.2 L997.1 355.5 L999.2 419.8 L1001.4 356.9 L1003.6 448.7 L1005.7 350.8 L1007.9 426.1 L1010.1 343.7 L1012.2 429.6 L1014.4 318.8 L1016.6 421.2 L1018.7 316.2 L1020.9 430.6 L1023.1 333.9 L1025.2 429.6 L1027.4 293.2 L1029.6 464.8 L1031.7 344.9 L1033.9 427.7 L1036.1 297.8 L1038.2 460.6 L1040.4 327.3 L1042.6 455.8 L1044.7 313.6 L1046.9 446.2 L1049.1 348.3 L1051.2 425.6 L1053.4 341.0 L1055.6 416.1 L1057.7 214.9 L1059.9 399.9 L1062.1 226.9 L1064.2 415.6 L1066.4 245.0 L1068.5 410.7 L1070.7 252.5 L1072.9 399.5 L1075.0 212.5 L1077.2 405.6 L1079.4 232.6 L1081.5 416.5 L1083.7 243.3 L1085.9 378.1 L1088.0 206.7 L1090.2 391.6 L1092.4 233.3 L1094.5 414.2 L1096.7 259.6 L1098.9 373.2 L1101.0 239.0 L1103.2 389.3 L1105.4 191.1 L1107.5 405.7 L1109.7 243.6 L1111.9 392.7 L1114.0 229.7 L1116.2 397.6 L1118.4 244.2 L1120.5 403.7 L1122.7 264.6 L1124.9 407.2 L1127.0 313.5 L1129.2 496.3 L1131.4 490.7 L1133.5 573.2 L1135.7 529.3 L1137.9 630.1 L1140.0 521.5 L1142.2 580.0 L1144.4 535.6 L1146.5 623.4 L1148.7 523.6 L1150.8 610.1 L1153.0 530.4 L1155.2 583.4 L1157.3 529.2 L1159.5 578.2 L1161.7 524.4 L1163.8 597.7 L1166.0 525.0 L1168.2 579.7 L1170.3 540.0 L1172.5 583.2 L1174.7 525.8 L1176.8 575.8 L1179.0 528.8 L1181.2 581.5 L1183.3 529.2 L1185.5 578.1 L1187.7 539.1 L1189.8 574.9 L1192.0 522.8 L1194.2 609.8 L1196.3 521.6 L1198.5 584.0 L1200.7 531.7 L1202.8 623.8 L1205.0 538.6 L1207.2 583.4 L1209.3 524.6 L1211.5 599.3 L1213.7 546.4 L1215.8 605.0 L1218.0 540.5 L1220.2 610.3 L1222.3 541.4 L1224.5 623.4 L1226.7 551.0 L1228.8 658.3 L1231.0 545.2 L1233.1 647.8 L1235.3 543.5 L1237.5 653.6 L1239.6 529.9 L1241.8 656.1 L1244.0 532.8 L1246.1 647.7 L1248.3 546.3 L1250.5 666.3 L1252.6 542.9 L1254.8 624.3 L1257.0 534.0 L1259.1 657.3 L1261.3 537.6 L1263.5 624.8 L1265.6 543.5 L1267.8 612.0 L1270.0 524.5 L1272.1 606.2 L1274.3 551.1 L1276.5 638.7 L1278.6 551.3 L1280.8 598.9 L1283.0 509.4 L1285.1 415.3 L1287.3 354.1 L1289.5 414.7 L1291.6 351.8 L1293.8 424.3 L1296.0 356.5 L1298.1 455.1 L1300.3 357.7 L1302.5 419.0 L1304.6 310.7 L1306.8 421.1 L1309.0 347.8 L1311.1 469.9 L1313.3 346.5 L1315.4 456.3 L1317.6 328.0 L1319.8 420.7 L1321.9 349.0 L1324.1 420.5 L1326.3 355.8 L1328.4 427.6 L1330.6 341.8 L1332.8 417.6 L1334.9 344.3 L1337.1 414.0 L1339.3 355.3 L1341.4 452.9 L1343.6 354.3 L1345.8 462.7 L1347.9 348.8 L1350.1 427.1 L1352.3 354.4 L1354.4 471.4 L1356.6 349.3 L1358.8 467.4 L1360.9 318.8 L1363.1 421.1 L1365.3 265.3 L1367.4 407.1 L1369.6 243.6 L1371.8 374.2 L1373.9 246.7 L1376.1 402.6 L1378.3 188.5 L1380.4 407.8 L1382.6 249.0 L1384.8 410.5 L1386.9 227.0 L1389.1 392.7 L1391.3 235.2 L1393.4 404.0 L1395.6 238.8 L1397.7 391.9 L1399.9 264.5 L1402.1 403.5 L1404.2 209.3 L1406.4 407.2 L1408.6 219.6 L1410.7 417.9 L1412.9 255.0 L1415.1 396.6 L1417.2 226.6 L1419.4 382.9 L1421.6 192.0 L1423.7 403.3 L1425.9 246.0 L1428.1 413.2 L1430.2 238.0 L1432.4 400.8 L1434.6 238.7 L1436.7 459.0 L1438.9 428.7 L1441.1 556.1 L1443.2 514.9 L1445.4 600.3 L1447.6 521.9 L1449.7 582.3 L1451.9 536.9 L1454.1 603.1 L1456.2 532.5 L1458.4 577.0 L1460.6 524.2 L1462.7 577.3 L1464.9 532.0 L1467.1 625.1 L1469.2 537.7 L1471.4 608.0 L1473.6 525.1 L1475.7 584.3 L1477.9 533.9 L1480.1 576.4 L1482.2 535.8 L1484.4 576.5 L1486.5 529.1 L1488.7 582.3 L1490.9 518.7 L1493.0 577.4 L1495.2 532.5 L1497.4 622.3 L1499.5 530.0 L1501.7 593.0 L1503.9 530.1 L1506.0 597.3 L1508.2 517.6 L1510.4 575.3 L1512.5 535.1 L1514.7 588.0 L1516.9 530.3 L1519.0 589.5 L1521.2 540.5 L1523.4 598.4 L1525.5 547.7 L1527.7 638.2 L1529.9 544.4 L1532.0 627.1 L1534.2 556.0 L1536.4 648.2 L1538.5 521.2 L1540.7 664.2 L1542.9 546.3 L1545.0 669.1 L1547.2 541.1 L1549.4 651.7 L1551.5 554.3 L1553.7 665.9 L1555.9 547.7 L1558.0 655.3 L1560.2 521.1 L1562.4 632.1 L1564.5 537.8 L1566.7 625.9 L1568.8 523.4 L1571.0 628.5 L1573.2 532.8 L1575.3 616.9 L1577.5 556.3 L1579.7 608.8 L1581.8 540.1 L1584.0 629.7 L1586.2 553.8 L1588.3 599.4 L1590.5 543.5 L1592.7 533.6 L1594.8 315.0 L1597.0 471.2 L1599.2 352.0 L1601.3 422.9 L1603.5 325.6 L1605.7 415.2 L1607.8 349.2 L1610.0 420.9 L1612.2 325.9 L1614.3 413.1 L1616.5 344.4 L1618.7 412.4 L1620.8 347.7 L1623.0 413.0 L1625.2 355.4 L1627.3 418.8 L1629.5 320.5 L1631.7 434.4 L1633.8 355.2 L1636.0 425.8 L1638.2 345.9 L1640.3 429.8 L1642.5 329.5 L1644.7 422.2 L1646.8 350.7 L1649.0 464.6 L1651.1 321.7 L1653.3 419.4 L1655.5 356.4 L1657.6 470.7 L1659.8 334.6 L1662.0 431.0 L1664.1 311.2 L1666.3 430.4 L1668.5 317.1 L1670.6 420.7 L1672.8 323.1 L1675.0 407.2 L1677.1 218.0 L1679.3 412.8 L1681.5 241.5 L1683.6 413.3 L1685.8 196.7 L1688.0 383.7 L1690.1 248.1 L1692.3 416.4 L1694.5 197.2 L1696.6 375.8 L1698.8 251.1 L1701.0 409.0 L1703.1 214.1 L1705.3 383.1 L1707.5 198.8 L1709.6 391.5 L1711.8 202.4 L1714.0 395.1 L1716.1 262.2 L1718.3 373.4 L1720.5 203.9 L1722.6 381.9 L1724.8 230.9 L1727.0 387.8 L1729.1 247.4 L1731.3 405.9 L1733.4 258.2 L1735.6 396.6 L1737.8 206.6 L1739.9 376.4 L1742.1 209.4 L1744.3 408.0 L1746.4 359.6 L1748.6 565.4 L1750.8 497.8 L1752.9 574.0 L1755.1 532.7 L1757.3 579.1 L1759.4 531.2 L1761.6 636.4 L1763.8 531.6 L1765.9 581.9 L1768.1 522.4 L1770.3 576.3 L1772.4 520.4 L1774.6 579.4 L1776.8 522.4 L1778.9 583.5 L1781.1 522.5 L1783.3 575.3 L1785.4 533.1 L1787.6 580.3 L1789.8 535.4 L1791.9 583.9 L1794.1 520.5 L1796.3 603.9 L1798.4 532.5 L1800.6 606.2 L1802.8 530.6 L1804.9 594.0 L1807.1 525.0 L1809.3 578.8 L1811.4 537.5 L1813.6 629.0 L1815.7 534.2 L1817.9 575.3 L1820.1 539.7 L1822.2 626.9 L1824.4 528.8 L1826.6 579.1 L1828.7 533.6 L1830.9 614.9 L1833.1 547.1 L1835.2 597.7 L1837.4 556.9 L1839.6 613.5 L1841.7 548.1 L1843.9 625.3 L1846.1 537.7 L1848.2 648.9 L1850.4 554.5 L1852.6 685.2 L1854.7 552.3 L1856.9 659.2 L1859.1 522.4 L1861.2 673.0 L1863.4 540.9 L1865.6 667.9 L1867.7 558.2 L1869.9 641.8 L1872.1 525.3 L1874.2 623.6 L1876.4 550.9 L1878.6 628.8 L1880.7 558.3 L1882.9 630.6 L1885.1 546.4 L1887.2 625.3 L1889.4 553.1 L1891.6 626.0 L1893.7 525.9 L1895.9 614.7 L1898.0 549.1 L1900.2 595.8 L1902.4 432.3" stroke="#D95319" stroke-width="5.5" fill="none" stroke-linejoin="round"/></g><g clip-path="url(#ax2)"><path d="M361.8 285.4V489.2M510.7 489.2V654.5M666.3 285.4V591.7M820.1 489.2V654.5M975.7 285.4V591.7M1129.5 489.2V654.5M1285.1 285.4V591.7M1438.9 489.2V654.5M1594.5 285.4V591.7M1748.3 489.2V654.5M1902.0 412.9V510.2" stroke="#D95319" stroke-width="5" fill="none"/><path d="M271.2 694.0 L313.6 694.0 L317.1 680.0 L325.0 649.0 L334.4 599.5 L346.4 549.6 L353.4 499.8 L359.4 462.3 L365.5 439.0 L371.0 430.0 L377.5 427.0 L384.0 431.0 L391.0 448.0 L398.0 478.0 L407.0 505.0 L418.0 558.0 L426.0 610.0 L435.0 636.0M435.6 498.0 L436.6 420.0 L438.6 370.0 L442.6 345.0 L445.6 320.0 L449.1 295.0 L453.1 270.0 L463.6 242.0 L473.5 277.0 L482.1 323.5 L490.6 386.0 L499.9 448.3 L510.2 510.6 L518.7 557.4 L524.5 585.0 L532.7 603.0 L540.5 590.0 L545.9 573.0 L558.4 510.6 L566.3 448.3 L574.5 412.0 L581.5 374.0M580.6 694.0 L623.0 694.0 L626.5 680.0 L634.4 649.0 L643.8 599.5 L655.8 549.6 L662.8 499.8 L668.8 462.3 L674.9 439.0 L680.4 430.0 L686.9 427.0 L693.4 431.0 L700.4 448.0 L707.4 478.0 L716.4 505.0 L727.4 558.0 L735.4 610.0 L744.4 636.0M745.0 498.0 L746.0 420.0 L748.0 370.0 L752.0 345.0 L755.0 320.0 L758.5 295.0 L762.5 270.0 L773.0 242.0 L782.9 277.0 L791.5 323.5 L800.0 386.0 L809.3 448.3 L819.6 510.6 L828.1 557.4 L833.9 585.0 L842.1 603.0 L849.9 590.0 L855.3 573.0 L867.8 510.6 L875.7 448.3 L883.9 412.0 L890.9 374.0M890.0 694.0 L932.4 694.0 L935.9 680.0 L943.8 649.0 L953.2 599.5 L965.2 549.6 L972.2 499.8 L978.2 462.3 L984.3 439.0 L989.8 430.0 L996.3 427.0 L1002.8 431.0 L1009.8 448.0 L1016.8 478.0 L1025.8 505.0 L1036.8 558.0 L1044.8 610.0 L1053.8 636.0M1054.4 498.0 L1055.4 420.0 L1057.4 370.0 L1061.4 345.0 L1064.4 320.0 L1067.9 295.0 L1071.9 270.0 L1082.4 242.0 L1092.3 277.0 L1100.9 323.5 L1109.4 386.0 L1118.7 448.3 L1129.0 510.6 L1137.5 557.4 L1143.3 585.0 L1151.5 603.0 L1159.3 590.0 L1164.7 573.0 L1177.2 510.6 L1185.1 448.3 L1193.3 412.0 L1200.3 374.0M1199.4 694.0 L1241.8 694.0 L1245.3 680.0 L1253.2 649.0 L1262.6 599.5 L1274.6 549.6 L1281.6 499.8 L1287.6 462.3 L1293.7 439.0 L1299.2 430.0 L1305.7 427.0 L1312.2 431.0 L1319.2 448.0 L1326.2 478.0 L1335.2 505.0 L1346.2 558.0 L1354.2 610.0 L1363.2 636.0M1363.8 498.0 L1364.8 420.0 L1366.8 370.0 L1370.8 345.0 L1373.8 320.0 L1377.3 295.0 L1381.3 270.0 L1391.8 242.0 L1401.7 277.0 L1410.3 323.5 L1418.8 386.0 L1428.1 448.3 L1438.4 510.6 L1446.9 557.4 L1452.7 585.0 L1460.9 603.0 L1468.7 590.0 L1474.1 573.0 L1486.6 510.6 L1494.5 448.3 L1502.7 412.0 L1509.7 374.0M1508.8 694.0 L1551.2 694.0 L1554.7 680.0 L1562.6 649.0 L1572.0 599.5 L1584.0 549.6 L1591.0 499.8 L1597.0 462.3 L1603.1 439.0 L1608.6 430.0 L1615.1 427.0 L1621.6 431.0 L1628.6 448.0 L1635.6 478.0 L1644.6 505.0 L1655.6 558.0 L1663.6 610.0 L1672.6 636.0M1673.2 498.0 L1674.2 420.0 L1676.2 370.0 L1680.2 345.0 L1683.2 320.0 L1686.7 295.0 L1690.7 270.0 L1701.2 242.0 L1711.1 277.0 L1719.7 323.5 L1728.2 386.0 L1737.5 448.3 L1747.8 510.6 L1756.3 557.4 L1762.1 585.0 L1770.3 603.0 L1778.1 590.0 L1783.5 573.0 L1796.0 510.6 L1803.9 448.3 L1812.1 412.0 L1819.1 374.0M1818.2 694.0 L1860.6 694.0 L1867.1 680.0 L1875.0 649.0 L1884.4 599.5 L1896.4 549.6 L1903.0 502.6" stroke="#0000FF" stroke-width="19" fill="none" stroke-linejoin="round" stroke-dasharray="66 8 34 8"/><path d="M435.6 189.0 L435.6 502.5M435.6 519.5 L435.6 551.5M435.6 569.5 L435.6 640.0M588.6 373.0 L588.6 436.5M588.6 450.0 L588.6 497.0M588.6 513.0 L588.6 743.6M588.6 751.5 L588.6 812.6M745.0 190.0 L745.0 502.5M745.0 519.5 L745.0 551.5M745.0 569.5 L745.0 640.0M898.0 373.0 L898.0 436.5M898.0 450.0 L898.0 497.0M898.0 513.0 L898.0 743.6M898.0 751.5 L898.0 812.6M1054.4 183.0 L1054.4 502.5M1054.4 519.5 L1054.4 551.5M1054.4 569.5 L1054.4 640.0M1207.4 373.0 L1207.4 436.5M1207.4 450.0 L1207.4 497.0M1207.4 513.0 L1207.4 743.6M1207.4 751.5 L1207.4 812.6M1363.8 181.0 L1363.8 502.5M1363.8 519.5 L1363.8 551.5M1363.8 569.5 L1363.8 640.0M1516.8 373.0 L1516.8 436.5M1516.8 450.0 L1516.8 497.0M1516.8 513.0 L1516.8 743.6M1516.8 751.5 L1516.8 812.6M1673.2 180.5 L1673.2 502.5M1673.2 519.5 L1673.2 551.5M1673.2 569.5 L1673.2 640.0M1826.2 373.0 L1826.2 436.5M1826.2 450.0 L1826.2 497.0M1826.2 513.0 L1826.2 743.6M1826.2 751.5 L1826.2 812.6" stroke="#0000FF" stroke-width="18.5" fill="none"/><g fill="#0000FF"><circle cx="377.5" cy="427.0" r="9.5"/><circle cx="463.6" cy="242.0" r="9.5"/><circle cx="532.7" cy="603.0" r="9.5"/><circle cx="686.9" cy="427.0" r="9.5"/><circle cx="773.0" cy="242.0" r="9.5"/><circle cx="842.1" cy="603.0" r="9.5"/><circle cx="996.3" cy="427.0" r="9.5"/><circle cx="1082.4" cy="242.0" r="9.5"/><circle cx="1151.5" cy="603.0" r="9.5"/><circle cx="1305.7" cy="427.0" r="9.5"/><circle cx="1391.8" cy="242.0" r="9.5"/><circle cx="1460.9" cy="603.0" r="9.5"/><circle cx="1615.1" cy="427.0" r="9.5"/><circle cx="1701.2" cy="242.0" r="9.5"/><circle cx="1770.3" cy="603.0" r="9.5"/></g></g><path d="M356.0 64.8V913.8" stroke="#262626" stroke-width="12.5" fill="none"/><g font-family="'Liberation Serif', serif" font-weight="bold" font-size="87" fill="#262626"><text x="174.2" y="103.5" letter-spacing="-1.7">0.04</text><text x="175" y="312.5" letter-spacing="-1.7">0.02</text><text x="324" y="520.5" text-anchor="end">0</text><text x="124" y="729.5">−<tspan x="174.2" letter-spacing="-1.7">0.02</tspan></text><text x="123" y="938.5">−<tspan x="174.2" letter-spacing="-1.7">0.04</tspan></text><text x="356.0" y="1019.5" text-anchor="middle">0</text><text x="742.8" y="1019.5" text-anchor="middle">5</text><text x="1129.5" y="1019.5" text-anchor="middle">10</text><text x="1516.2" y="1019.5" text-anchor="middle">15</text><text x="1903.0" y="1019.5" text-anchor="middle">20</text></g><text x="1131" y="1122" text-anchor="middle" font-family="'Liberation Serif', serif" font-weight="bold" font-size="85" fill="#262626">Time(s)</text><text transform="translate(113.5,1000) rotate(-90)" x="0" y="0" font-family="'Liberation Serif', serif" font-weight="bold" font-size="85" fill="#262626"><tspan font-style="italic">X</tspan>-axis tracking error(mm)</text><path d="M544 123.5H798" stroke="#D95319" stroke-width="5" fill="none"/><path d="M1249.5 123.3H1494.3" stroke="#0000FF" stroke-width="17.7" fill="none" stroke-dasharray="65.6 16 32.6 16"/><g font-family="'Liberation Serif', serif" font-size="75.5" fill="#000"><text x="817" y="151">Experiments</text><text x="1520.5" y="151">Simulation</text></g><text x="1012.5" y="1247" text-anchor="middle" font-family="'Liberation Serif', serif" font-size="85.5" fill="#000">(<tspan font-weight="bold" font-size="88">a</tspan>)</text></svg></body></html>
